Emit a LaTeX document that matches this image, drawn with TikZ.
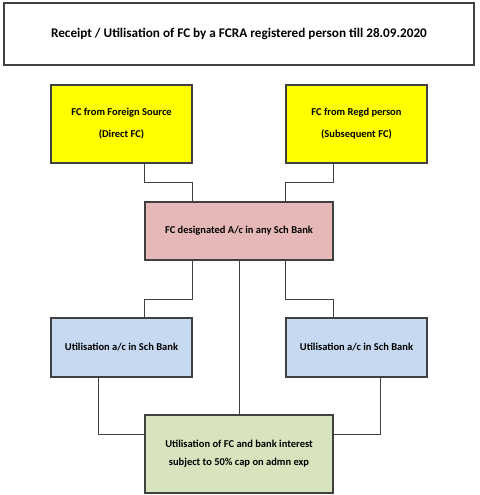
\documentclass[tikz,border=0pt]{standalone}
\usepackage{fontspec}
\setmainfont{Carlito}
\usepackage{tikz}
\definecolor{boxline}{HTML}{404040}
\definecolor{srcfill}{HTML}{FFFF00}
\definecolor{acfill}{HTML}{E6B9B8}
\definecolor{utilfill}{HTML}{C6D9F1}
\definecolor{endfill}{HTML}{D7E4BD}

\begin{document}
\begin{tikzpicture}[x=1pt,y=-1pt,
		flowbox/.style={draw=boxline, line width=1.1pt, minimum width=141pt, minimum height=78pt, align=center, inner sep=0pt, font=\fontsize{10.5}{18}\selectfont\bfseries},
		link/.style={draw=boxline, line width=0.9pt}]
				\useasboundingbox (0,0) rectangle (479,495);
				
				\node[draw=boxline, line width=1.1pt, minimum width=470pt, minimum height=62pt, font=\fontsize{13.2}{15}\selectfont\bfseries] (title) at (239,34) {Receipt / Utilisation of FC by a FCRA registered person till 28.09.2020};
				
				\node[flowbox, fill=srcfill] (direct) at (121.5,124) {FC from Foreign Source\\[4pt](Direct FC)};
				\node[flowbox, fill=srcfill] (regd) at (356.5,124) {FC from Regd person\\[4pt](Subsequent FC)};
				
				\node[flowbox, fill=acfill, minimum width=188pt, minimum height=58pt] (desig) at (239,231) {FC designated A/c in any Sch Bank};
				
				\node[flowbox, fill=utilfill, minimum height=59pt] (utilL) at (121.5,347.5) {Utilisation a/c in Sch Bank};
				\node[flowbox, fill=utilfill, minimum height=59pt] (utilR) at (356.5,347.5) {Utilisation a/c in Sch Bank};
				
				\node[flowbox, fill=endfill, minimum width=188pt] (final) at (239,454) {Utilisation of FC and bank interest\\subject to 50\% cap on admn exp};
				
				\draw[link] (direct.south -| desig.west) -- ++(0,19) -| (desig.north -| direct.east);
				\draw[link] (regd.south -| desig.east) -- ++(0,19) -| (desig.north -| regd.west);
				
				\draw[link] (desig.south -| utilL.east) -- ++(0,39) -| (utilL.north -| desig.west);
				\draw[link] (desig.south -| utilR.west) -- ++(0,39) -| (utilR.north -| desig.east);
				\draw[link] (desig.south) -- (final.north);
				
				\draw[link] (utilL.south) ++(-23.5,0) |- (final.west |- 0,434);
				\draw[link] (utilR.south) ++(23.5,0) |- (final.east |- 0,434);
			\end{tikzpicture}
\end{document}
